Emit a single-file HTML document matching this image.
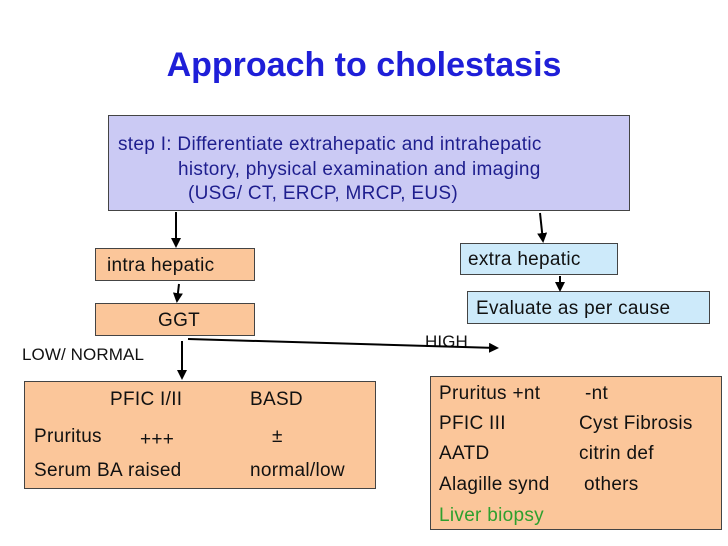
<!DOCTYPE html>
<html><head><style>
body{margin:0;width:728px;height:546px;background:#fff;position:relative;overflow:hidden;font-family:"Liberation Sans",sans-serif;}
.a{position:absolute;}
.b{position:absolute;border:1.5px solid #444;box-sizing:border-box;}
.or{background:#fbc69a;}
.t{position:absolute;font-size:19px;letter-spacing:0.3px;color:#111;white-space:nowrap;}
</style></head><body>
<div class="a" style="left:0;width:728px;top:46px;text-align:center;font-size:34px;font-weight:bold;color:#1f1fd8;">Approach to cholestasis</div>
<div class="b" style="left:108px;top:115px;width:522px;height:96px;background:#cbcaf4;"></div>
<div class="t" style="left:118px;top:134px;color:#1e1e8e;">step I: Differentiate extrahepatic and intrahepatic</div>
<div class="t" style="left:178px;top:159px;color:#1e1e8e;">history, physical examination and imaging</div>
<div class="t" style="left:188px;top:183px;color:#1e1e8e;">(USG/ CT, ERCP, MRCP, EUS)</div>
<div class="b or" style="left:95px;top:248px;width:160px;height:33px;"></div>
<div class="t" style="left:107px;top:255px;">intra hepatic</div>
<div class="b or" style="left:95px;top:303px;width:160px;height:33px;"></div>
<div class="t" style="left:158px;top:310px;">GGT</div>
<div class="b" style="left:460px;top:243px;width:158px;height:32px;background:#cdeafa;"></div>
<div class="t" style="left:468px;top:249px;">extra hepatic</div>
<div class="b" style="left:467px;top:291px;width:243px;height:33px;background:#cdeafa;"></div>
<div class="t" style="left:476px;top:298px;">Evaluate as per cause</div>
<div class="t" style="left:22px;top:345px;font-size:17px;letter-spacing:0.1px;">LOW/ NORMAL</div>
<div class="t" style="left:425px;top:332px;font-size:17px;letter-spacing:0.1px;">HIGH</div>
<div class="b or" style="left:24px;top:381px;width:352px;height:108px;"></div>
<div class="t" style="left:110px;top:389px;">PFIC I/II</div>
<div class="t" style="left:250px;top:389px;">BASD</div>
<div class="t" style="left:34px;top:426px;">Pruritus</div>
<div class="t" style="left:140px;top:429px;">+++</div>
<div class="t" style="left:272px;top:426px;">±</div>
<div class="t" style="left:34px;top:460px;">Serum BA</div>
<div class="t" style="left:128px;top:460px;">raised</div>
<div class="t" style="left:250px;top:460px;">normal/low</div>
<div class="b or" style="left:430px;top:376px;width:292px;height:154px;"></div>
<div class="t" style="left:439px;top:383px;">Pruritus +nt</div>
<div class="t" style="left:585px;top:383px;">-nt</div>
<div class="t" style="left:439px;top:413px;">PFIC III</div>
<div class="t" style="left:579px;top:413px;">Cyst Fibrosis</div>
<div class="t" style="left:439px;top:443px;">AATD</div>
<div class="t" style="left:579px;top:443px;">citrin def</div>
<div class="t" style="left:439px;top:474px;">Alagille synd</div>
<div class="t" style="left:584px;top:474px;">others</div>
<div class="t" style="left:439px;top:505px;color:#2ea02e;">Liver biopsy</div>
<svg class="a" style="left:0;top:0" width="728" height="546">
<defs><marker id="m" markerWidth="5" markerHeight="5" refX="4" refY="2.5" orient="auto" markerUnits="strokeWidth"><path d="M0,0 L5,2.5 L0,5z" fill="#000"/></marker></defs>
<g stroke="#000" stroke-width="2" fill="none" marker-end="url(#m)">
<line x1="176" y1="212" x2="176" y2="246"/>
<line x1="540" y1="213" x2="543" y2="241"/>
<line x1="179" y1="284" x2="177" y2="301"/>
<line x1="560" y1="276" x2="560" y2="290"/>
<line x1="182" y1="341" x2="182" y2="378"/>
<line x1="188" y1="339" x2="497" y2="348"/>
</g></svg>
</body></html>
